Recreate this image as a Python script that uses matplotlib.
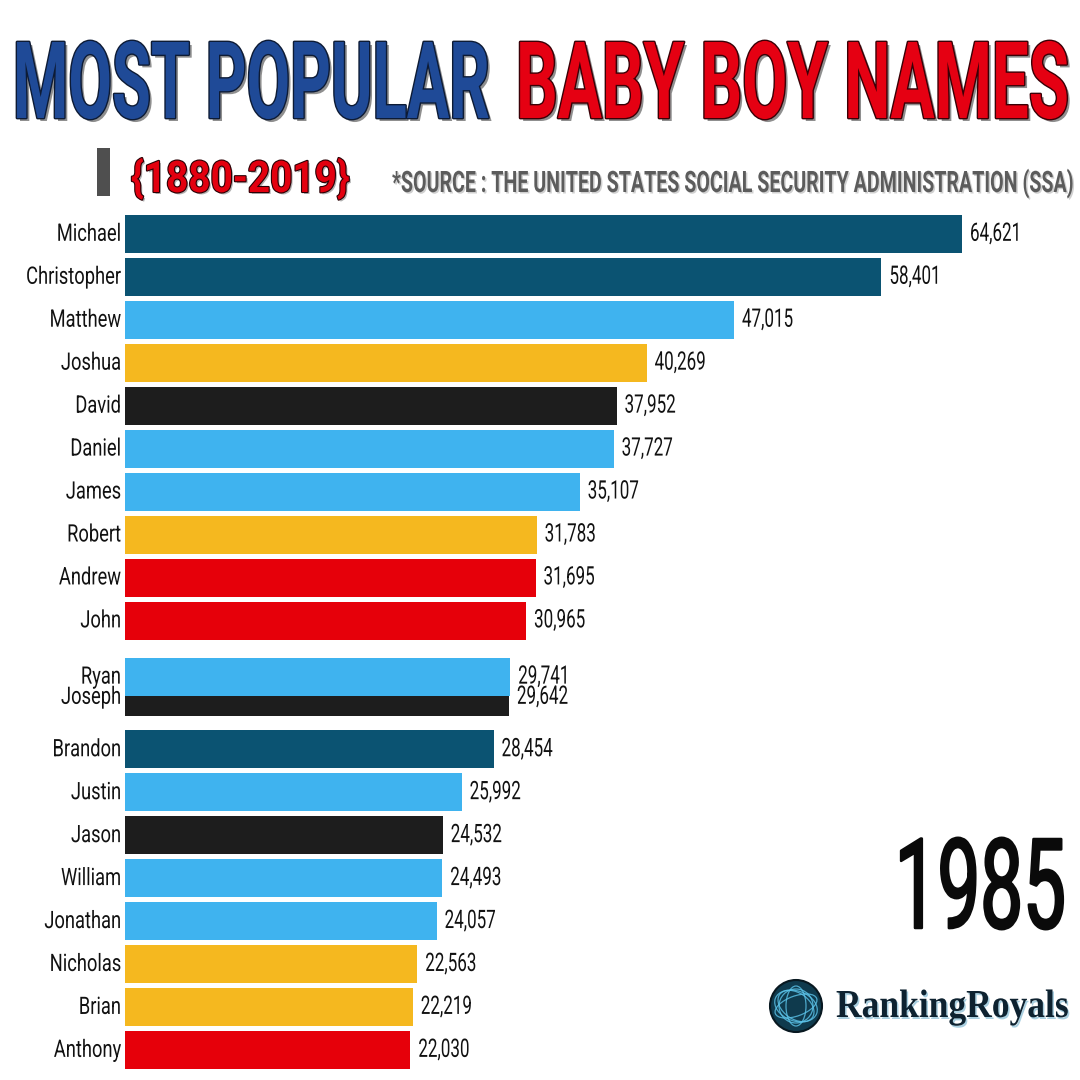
import matplotlib
matplotlib.use("Agg")
import matplotlib.pyplot as plt
import matplotlib.text as mtext
import matplotlib.colors as mcolors
from matplotlib.patheffects import AbstractPathEffect
from matplotlib.transforms import Affine2D, Bbox, offset_copy
from matplotlib.patches import Circle, Ellipse, Rectangle
from matplotlib.textpath import TextPath
from matplotlib import font_manager

# ---------------- data ----------------
names = ["Michael", "Christopher", "Matthew", "Joshua", "David", "Daniel", "James",
         "Robert", "Andrew", "John", "Ryan", "Joseph", "Brandon", "Justin", "Jason",
         "William", "Jonathan", "Nicholas", "Brian", "Anthony"]
counts = [64621, 58401, 47015, 40269, 37952, 37727, 35107, 31783, 31695, 30965,
          29741, 29642, 28454, 25992, 24532, 24493, 24057, 22563, 22219, 22030]
# rank slot of each bar in this frame of the race (Ryan/Joseph mid-swap)
rank_pos = [0, 1, 2, 3, 4, 5, 6, 7, 8, 9, 10.31, 10.78, 12, 13, 14, 15, 16, 17, 18, 19]
bar_colors = ["#0b5372", "#0b5372", "#3fb3ef", "#f5b81f", "#1d1d1d", "#3fb3ef", "#3fb3ef",
              "#f5b81f", "#e6000a", "#e6000a", "#3fb3ef", "#1d1d1d", "#0b5372", "#3fb3ef",
              "#1d1d1d", "#3fb3ef", "#3fb3ef", "#f5b81f", "#f5b81f", "#e6000a"]
year_label = "1985"
title_left = "MOST POPULAR"
title_right = "BABY BOY NAMES"
period_label = "{1880-2019}"
source_label = "*SOURCE : THE UNITED STATES SOCIAL SECURITY ADMINISTRATION (SSA)"
brand_label = "RankingRoyals"

# ---------------- fonts ----------------
available = {f.name for f in font_manager.fontManager.ttflist}
SANS = "Roboto" if "Roboto" in available else "DejaVu Sans"
SERIF = "Liberation Serif" if "Liberation Serif" in available else "DejaVu Serif"

W = H = 1080
fig = plt.figure(figsize=(10.8, 10.8), dpi=100)
fig.patch.set_facecolor("white")


class Squeeze(AbstractPathEffect):
    """Scale glyph outlines about an anchor point; optional outline and drop shadow."""
    def __init__(self, sx=1.0, sy=1.0, stroke=None, stroke_w=0.0, shadow=None, shadow_off=(0, 0)):
        super().__init__()
        self.sx, self.sy = sx, sy
        self.x0, self.y0 = 0.0, 0.0
        self.stroke = stroke
        self.stroke_w = stroke_w
        self.shadow = mcolors.to_rgba(shadow) if shadow is not None else None
        self.shadow_off = shadow_off

    def draw_path(self, renderer, gc, tpath, affine, rgbFace):
        sq = affine + Affine2D().translate(-self.x0, -self.y0).scale(self.sx, self.sy).translate(self.x0, self.y0)
        if self.shadow is not None:
            g = renderer.new_gc()
            g.copy_properties(gc)
            g.set_linewidth(0)
            renderer.draw_path(g, tpath, sq + Affine2D().translate(*self.shadow_off), self.shadow)
            g.restore()
        if self.stroke is not None:
            g = renderer.new_gc()
            g.copy_properties(gc)
            g.set_foreground(self.stroke)
            g.set_linewidth(self.stroke_w)
            g.set_joinstyle("round")
            renderer.draw_path(g, tpath, sq, rgbFace)
            g.restore()
        renderer.draw_path(gc, tpath, sq, rgbFace)


class ScaledText(mtext.Text):
    def __init__(self, x, y, text, sx=1.0, sy=1.0, anchor="left", yanchor="baseline",
                 stroke=None, stroke_w=0.0, shadow=None, shadow_off=(0, 0), **kw):
        super().__init__(x, y, text, **kw)
        self._sq = Squeeze(sx, sy, stroke, stroke_w, shadow, shadow_off)
        self._anchor = anchor
        self._yanchor = yanchor
        self.set_path_effects([self._sq])

    def _anchors(self, bb):
        if self._anchor == "left":
            a = bb.x0
        elif self._anchor == "right":
            a = bb.x1
        else:
            a = 0.5 * (bb.x0 + bb.x1)
        if self._yanchor == "baseline":
            b = self.get_transform().transform(self.get_unitless_position())[1]
        else:
            b = 0.5 * (bb.y0 + bb.y1)
        return a, b

    def get_window_extent(self, renderer=None, dpi=None):
        bb = super().get_window_extent(renderer, dpi)
        a, b = self._anchors(bb)
        sx, sy = self._sq.sx, self._sq.sy
        return Bbox.from_extents(a + (bb.x0 - a) * sx, b + (bb.y0 - b) * sy,
                                 a + (bb.x1 - a) * sx, b + (bb.y1 - b) * sy)

    def draw(self, renderer):
        if not self.get_visible():
            return
        bb = mtext.Text.get_window_extent(self, renderer)
        self._sq.x0, self._sq.y0 = self._anchors(bb)
        super().draw(renderer)


def fx(px):
    return px / W


def fy(py):
    return 1 - py / H


def add_text(t):
    fig.add_artist(t)
    return t


def fit_box(t, width_px, cap_px):
    """Set font size so the text's natural width is width_px, then stretch vertically to cap_px."""
    r = fig.canvas.get_renderer()
    for _ in range(4):
        w = mtext.Text.get_window_extent(t, r).width
        t.set_fontsize(t.get_fontsize() * width_px / w)
    cap = TextPath((0, 0), "H", size=t.get_fontsize() * fig.dpi / 72,
                   prop=t.get_fontproperties()).get_extents().height
    t._sq.sy = cap_px / cap


# ---------------- bars ----------------
bar_left, bar_top, bar_bottom = 125, 205, 1075
ax = fig.add_axes([fx(bar_left), 1 - bar_bottom / H, (W - bar_left) / W, (bar_bottom - bar_top) / H])
px_per_unit = (962 - bar_left) / counts[0]
ax.set_xlim(0, (W - bar_left) / px_per_unit)
slot = 42.95
ax.set_ylim((bar_bottom - 234) / slot, (bar_top - 234) / slot)
ax.barh(rank_pos[::-1], counts[::-1], height=0.885, color=bar_colors[::-1], linewidth=0)
ax.axis("off")

name_tr = offset_copy(ax.transData, fig=fig, x=-4, y=0, units="dots")
val_tr = offset_copy(ax.transData, fig=fig, x=8, y=0, units="dots")
for n, c, r in zip(names, counts, rank_pos):
    add_text(ScaledText(0, r, n, sx=0.8, sy=1.05, anchor="right", yanchor="center",
                        transform=name_tr, ha="right", va="center", fontsize=16.5,
                        family=SANS, color="#111111", clip_on=False))
    add_text(ScaledText(c, r, f"{c:,}", sx=0.7, sy=1.05, anchor="left", yanchor="center",
                        transform=val_tr, ha="left", va="center", fontsize=17.5,
                        family=SANS, color="#111111", clip_on=False))

# ---------------- title ----------------
t1 = add_text(ScaledText(fx(13), fy(118), title_left, anchor="left", transform=fig.transFigure,
                         ha="left", va="baseline", fontsize=60, family=SANS, weight="bold",
                         color="#1f4a97", stroke="#0d1b35", stroke_w=2.0,
                         shadow="#8f8f8f", shadow_off=(3, -3)))
fit_box(t1, 490 - 13, 76)
t2 = add_text(ScaledText(fx(516), fy(118), title_right, anchor="left", transform=fig.transFigure,
                         ha="left", va="baseline", fontsize=60, family=SANS, weight="bold",
                         color="#e50012", stroke="#3a0006", stroke_w=2.0,
                         shadow="#8f8f8f", shadow_off=(3, -3)))
fit_box(t2, 1068 - 516, 76)

fig.add_artist(Rectangle((fx(97), fy(196)), 13 / W, 48 / H, transform=fig.transFigure,
                         facecolor="#4f4f4f", edgecolor="none"))
t3 = add_text(ScaledText(fx(131), fy(192), period_label, anchor="left", transform=fig.transFigure,
                         ha="left", va="baseline", fontsize=24, family=SANS, weight="bold",
                         color="#e3000f", stroke="#2a0005", stroke_w=1.6,
                         shadow="#b0b0b0", shadow_off=(2, -2)))
fit_box(t3, 350 - 131, 31)
t4 = add_text(ScaledText(fx(392), fy(192), source_label, anchor="left", transform=fig.transFigure,
                         ha="left", va="baseline", fontsize=16, family=SANS, weight="bold",
                         color="#5c5c5c", shadow="#d0d0d0", shadow_off=(1.5, -1.5)))
fit_box(t4, 1073 - 392, 21)

# ---------------- year ----------------
t5 = add_text(ScaledText(fx(1066), fy(928), year_label, anchor="right", transform=fig.transFigure,
                         ha="right", va="baseline", fontsize=60, family=SANS, weight="normal",
                         color="#0a0a0a", stroke="#0a0a0a", stroke_w=1.8))
fit_box(t5, 1066 - 895, 89)

# ---------------- brand ----------------
cx, cy, rr = 796, 1006, 26
fig.add_artist(Circle((fx(cx), fy(cy)), rr / W, transform=fig.transFigure,
                      facecolor="#0f3a4d", edgecolor="#081820", linewidth=1.5))
for (ew, eh, ang) in [(44, 20, 20), (40, 26, -35), (30, 44, 70), (20, 40, 0), (34, 34, 0)]:
    fig.add_artist(Ellipse((fx(cx), fy(cy)), ew / W, eh / H, angle=ang, transform=fig.transFigure,
                           facecolor="none", edgecolor="#5cc4ea", linewidth=0.9, alpha=0.8))
t6 = add_text(ScaledText(fx(836), fy(1017), brand_label, anchor="left", transform=fig.transFigure,
                         ha="left", va="baseline", fontsize=26, family=SERIF, weight="bold",
                         color="#0e2230", shadow="#a9cfe0", shadow_off=(1.5, -2)))
fit_box(t6, 1069 - 836, 26)

fig.savefig("out.png", dpi=100, facecolor="white")
